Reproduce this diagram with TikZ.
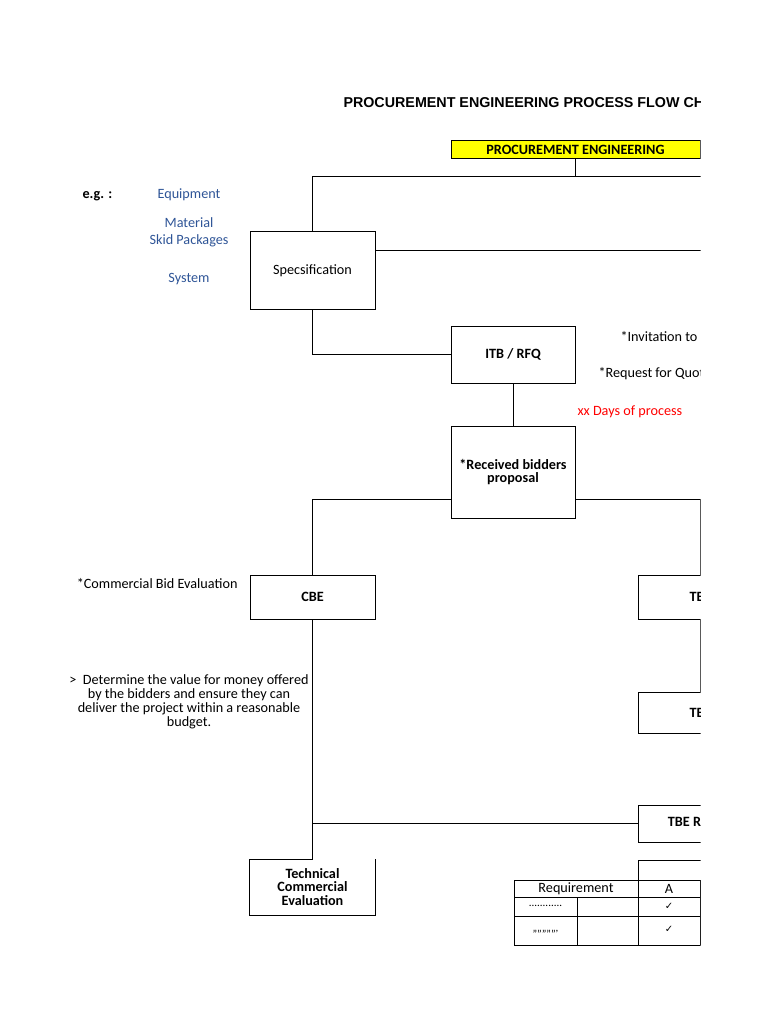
\documentclass[tikz,border=0pt]{standalone}
\usepackage{fontspec}
\setmainfont{Carlito}
\newfontfamily\arialfont{Liberation Sans}
\newfontfamily\symfont{DejaVu Sans}
\definecolor{itemblue}{HTML}{2F5597}
\definecolor{pyellow}{HTML}{FFFF00}
\begin{document}
\begin{tikzpicture}[x=1pt,y=-1pt,
  line width=1pt,
  fbox/.style={draw, line width=1pt, inner sep=0pt, align=center, font=\fontsize{14.2}{13.8}\selectfont\bfseries},
  plain/.style={inner sep=0pt, font=\fontsize{14.2}{14}\selectfont},
  item/.style={inner sep=0pt, font=\fontsize{14.2}{14}\selectfont, text=itemblue},
  conn/.style={line width=1pt}]
\useasboundingbox (0,0) rectangle (768,1024);
\begin{scope}
\clip (0,0) rectangle (700.6,1024);
% title
\node[anchor=base west, inner sep=0pt, font=\arialfont\fontsize{14.3}{15}\selectfont\bfseries] (title) at (343,108) {PROCUREMENT ENGINEERING PROCESS FLOW CHART};
% boxes
\node[fbox, fill=pyellow, minimum width=249pt, minimum height=18pt] (pe) at (575.5,150) {PROCUREMENT ENGINEERING};
\node[fbox, minimum width=125pt, minimum height=77pt, font=\fontsize{14.2}{14}\selectfont] (spec) at (312.5,270.5) {Specsification};
\node[fbox, minimum width=124pt, minimum height=57pt] (itb) at (513,354.5) {ITB / RFQ};
\node[fbox, minimum width=124pt, minimum height=92pt] (recv) at (513,472) {*Received bidders\\proposal};
\node[fbox, minimum width=125pt, minimum height=44pt] (cbe) at (312.5,597) {CBE};
\node[fbox, minimum width=125pt, minimum height=44pt] (tbe1) at (700.5,597) {TBE};
\node[fbox, minimum width=125pt, minimum height=41pt] (tbe2) at (700.5,712.5) {TBE};
\node[fbox, minimum width=125pt, minimum height=37pt] (tber) at (700.5,823.5) {TBE Report};
\node[fbox, draw=none, minimum width=125pt, minimum height=55pt] (tce) at (312.5,887) {Technical\\Commercial\\Evaluation};
\draw[conn] (tce.north) -- (tce.north west) -- (tce.south west) -- (tce.south east) -- (tce.north east);
% partial box above table
\coordinate (rb1) at (768,860.5);
\coordinate (rb2) at (638,880);
\draw[conn] (rb1) -- (rb2 |- rb1) -- (rb2);
% connector coordinates
\coordinate (r1) at (768,177);
\coordinate (r2) at (768,250);
\coordinate (h) at (0,499);
\draw[conn] (pe.south) -- (pe.south |- r1);
\draw[conn] (spec.north) |- (r1);
\draw[conn] (spec.east |- r2) -- (r2);
\draw[conn] (spec.south) |- (itb.west);
\draw[conn] (itb.south) -- (recv.north);
\draw[conn] (recv.west |- h) -| (cbe.north);
\draw[conn] (recv.east |- h) -| (tbe1.north);
\draw[conn] (tbe1.south) -- (tbe2.north);
\draw[conn] (cbe.south) -- (tce.north);
\draw[conn] (cbe.south |- tber.west) -- (tber.west);
% side texts
\node[anchor=base west, inner sep=0pt, font=\fontsize{14.2}{14}\selectfont\bfseries] (eg) at (82,199) {e.g. :};
\node[item] (equip) at (189,194.5) {Equipment};
\node[item] (mat) at (189,222.5) {Material};
\node[item] (skid) at (189,240.5) {Skid Packages};
\node[item] (sys) at (189,279.5) {System};
\node[plain, anchor=west] (itbnote) at (620,336.5) {*Invitation to Bid};
\node[plain, anchor=west] (rfqnote) at (598,373.5) {*Request for Quotation};
\node[plain, anchor=west, text=red] (days) at (577,411.5) {xx Days of process};
\node[plain, anchor=east] (cbenote) at (238,583.5) {*Commercial Bid Evaluation};
\node[plain, align=center] (desc) at (189,701.5) {>\ \ Determine the value for money offered\\by the bidders and ensure they can\\deliver the project within a reasonable\\budget.};
% table
\draw[conn] (514,880) rectangle (700,945);
\draw[conn] (514,897) -- (700,897);
\draw[conn] (514,916) -- (700,916);
\draw[conn] (577,897) -- (577,945);
\draw[conn] (638,880) -- (638,945);
\draw[conn] (700,880) -- (700,945);
\node[plain] (hreq) at (576,888.5) {Requirement};
\node[plain] (hA) at (669,888.5) {A};
\node[plain, font=\fontsize{11}{12}\selectfont] (r1c1) at (545.5,906) {............};
\node[plain, font=\fontsize{11}{12}\selectfont] (r2c1) at (545.5,932) {,,,,,,,,,,,};
\node[inner sep=0pt, font=\symfont\fontsize{10}{12}\selectfont] (r1c3) at (669,906) {✓};
\node[inner sep=0pt, font=\symfont\fontsize{10}{12}\selectfont] (r2c3) at (669,929) {✓};
\end{scope}
\end{tikzpicture}
\end{document}
